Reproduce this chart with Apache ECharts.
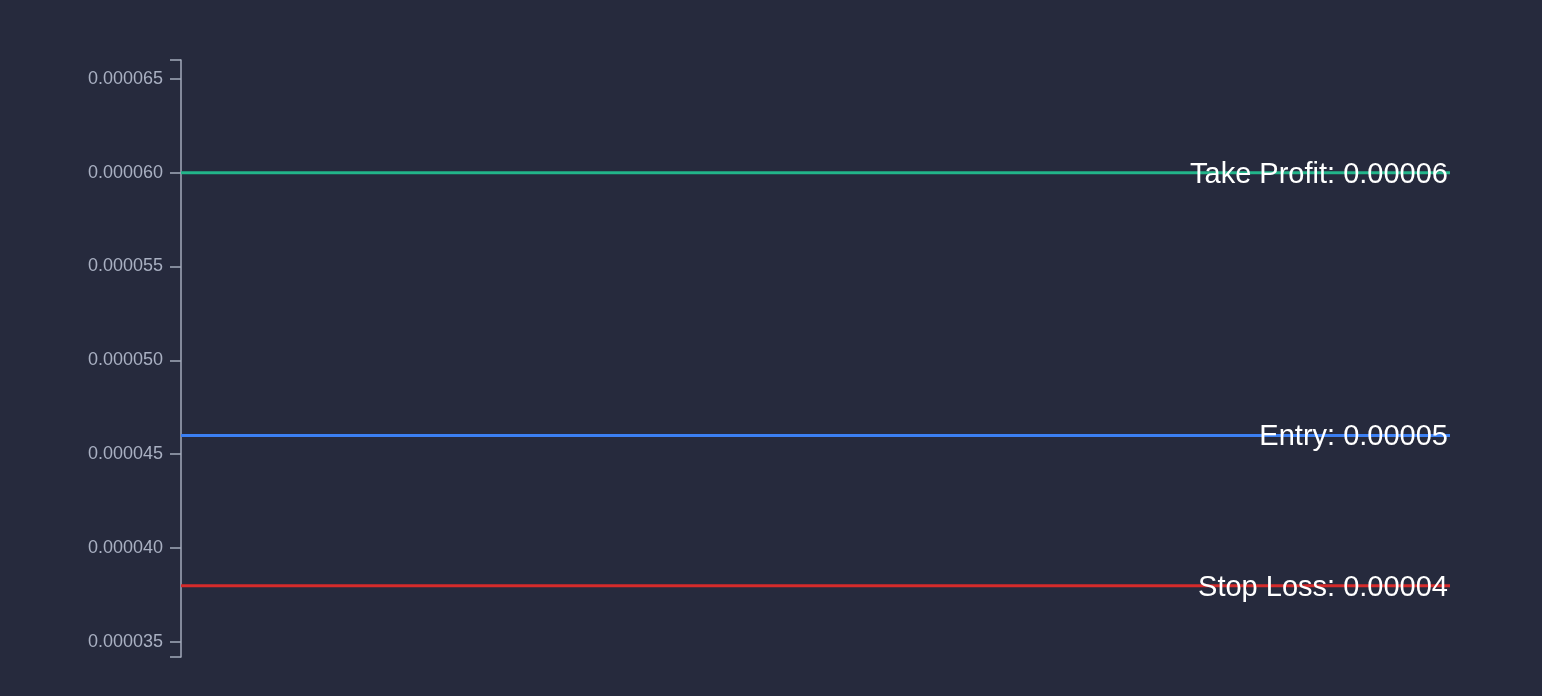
<!DOCTYPE html>
<html>
<head>
<meta charset="utf-8">
<script src="https://cdn.jsdelivr.net/npm/echarts@6/dist/echarts.min.js"></script>
<style>
html,body{margin:0;padding:0;background:#262a3d;}
#c{width:1542px;height:696px;}
</style>
</head>
<body>
<div id="c"></div>
<script>
var levelNames = ['Take Profit', 'Entry', 'Stop Loss'];
var levelValues = [0.00006, 0.000046, 0.000038];
var levelColors = ['#22b58a', '#3b7ff2', '#d62b2b'];
var yMin = 0.0000342;
var yMax = 0.000066;
var tickValues = [0.000035, 0.00004, 0.000045, 0.00005, 0.000055, 0.00006, 0.000065];

var chart = echarts.init(document.getElementById('c'));
var series = levelNames.map(function (name, i) {
  var v = levelValues[i];
  return {
    type: 'line',
    name: name,
    symbol: 'circle',
    symbolSize: 0,
    showSymbol: true,
    silent: true,
    lineStyle: { color: levelColors[i], width: 3 },
    itemStyle: { color: levelColors[i] },
    label: { show: false },
    data: [
      [0, v],
      {
        value: [1, v],
        label: {
          show: true,
          position: 'left',
          distance: 2,
          offset: [0, 2],
          color: '#ffffff',
          fontSize: 29,
          fontFamily: 'Liberation Sans, Arial, sans-serif',
          formatter: function () { return name + ': ' + v.toFixed(5); }
        }
      }
    ]
  };
});

chart.setOption({
  backgroundColor: '#262a3d',
  animation: false,
  grid: { left: 181, right: 92, top: 60, bottom: 39 },
  xAxis: { type: 'value', min: 0, max: 1, show: false },
  yAxis: {
    type: 'value',
    min: yMin,
    max: yMax,
    splitLine: { show: false },
    axisLine: { show: true, lineStyle: { color: '#a3aabb', width: 1.5 } },
    axisTick: {
      show: true,
      length: 11,
      customValues: [yMin].concat(tickValues, [yMax]),
      lineStyle: { color: '#a3aabb', width: 1.5 }
    },
    axisLabel: {
      customValues: tickValues,
      margin: 18,
      color: '#a9b0c2',
      fontSize: 18,
      fontFamily: 'Liberation Sans, Arial, sans-serif',
      formatter: function (v) { return v.toFixed(6); }
    }
  },
  series: series
});
</script>
</body>
</html>
